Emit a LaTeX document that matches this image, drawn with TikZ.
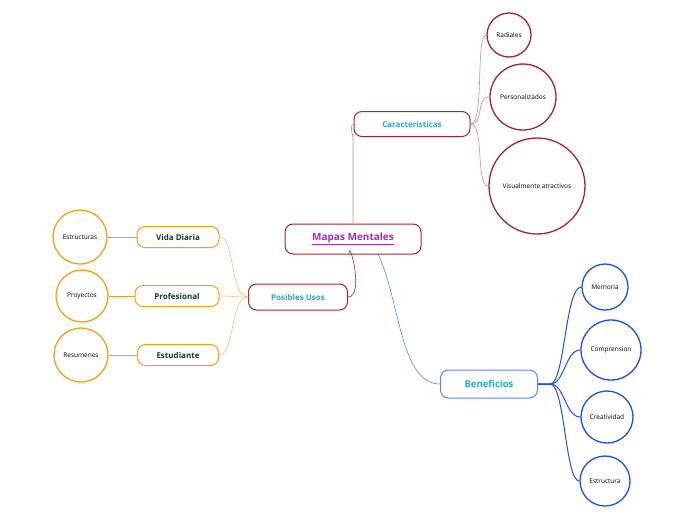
\documentclass[tikz,border=0pt]{standalone}
\usepackage{fontspec}
\setmainfont{Open Sans}
\definecolor{dred}{HTML}{A3262C}
\definecolor{tblue}{HTML}{2AA6E3}
\definecolor{bblue}{HTML}{1A4FF0}
\definecolor{lblue}{HTML}{5A86F5}
\definecolor{org}{HTML}{F5A01A}
\definecolor{lorg}{HTML}{F8C070}
\definecolor{dgreen}{HTML}{0B3D2E}
\definecolor{purp}{HTML}{9B2BE0}
\definecolor{lred}{HTML}{D88A8C}
\begin{document}
\begin{tikzpicture}[x=1pt,y=-1pt,
  box/.style={draw,rounded corners=8pt,line width=1pt,inner sep=0pt},
  circ/.style={draw,circle,line width=1.3pt,inner sep=0pt,font=\fontsize{6.5}{8}\selectfont},
  rbox/.style={box,draw=dred,text=tblue,font=\fontsize{8}{10}\selectfont\bfseries},
  obox/.style={box,draw=org,text=dgreen,font=\fontsize{8}{10}\selectfont\bfseries,minimum height=21pt},
  rc/.style={circ,draw=dred},
  oc/.style={circ,draw=org},
  bc/.style={circ,draw=bblue}]
\useasboundingbox (0,0) rectangle (696,520);
\node[box,draw=dred,minimum width=136pt,minimum height=30pt,text=purp,font=\fontsize{10}{12}\selectfont\bfseries] (c) at (353,239) {\underline{Mapas Mentales}};
\node[rbox,minimum width=116pt,minimum height=25pt] (car) at (412,124) {Caracteristicas};
\node[rbox,minimum width=99pt,minimum height=26pt] (pu) at (298,297) {Posibles Usos};
\node[box,draw=lblue,text=tblue,font=\fontsize{9.5}{11}\selectfont\bfseries,minimum width=97pt,minimum height=28pt] (ben) at (489,384) {Beneficios};
\node[rc,minimum size=44pt] (r1) at (509,35) {Radiales};
\node[rc,minimum size=66pt] (r2) at (523,97) {Personalizados};
\node[rc,minimum size=96pt] (r3) at (537,186) {Visualmente atractivos};
\node[obox,minimum width=82pt] (o1) at (178,237) {Vida Diaria};
\node[obox,minimum width=84pt] (o2) at (177,296) {Profesional};
\node[obox,minimum width=81pt] (o3) at (178,355) {Estudiante};
\node[oc,minimum size=54pt] (e1) at (80,237) {Estructuras};
\node[oc,minimum size=52pt] (e2) at (82,296) {Proyectos};
\node[oc,minimum size=54pt] (e3) at (81,355) {Resumenes};
\node[bc,minimum size=46pt] (b1) at (605,287) {Memoria};
\node[bc,minimum size=60pt] (b2) at (611,350) {Comprension};
\node[bc,minimum size=52pt] (b3) at (607,417) {Creatividad};
\node[bc,minimum size=50pt] (b4) at (605,481) {Estructura};
\coordinate (ct) at (353,224);
\coordinate (cb) at (349,254);
\coordinate (cbr) at (378,254);
\draw[lred,line width=0.6pt] (ct) -- (353,135) to[out=-90,in=180] (car.west);
\draw[dred,line width=0.6pt] (cb) to[out=90,in=0] (pu.east);
\draw[lblue,line width=0.6pt] (cbr) .. controls (400,300) and (400,384) .. (ben.west);
\foreach \t in {r1,r2,r3}
  \draw[lred,line width=0.6pt] (car.east) .. controls (485,124) and (475,0|-\t.west) .. (\t.west);
\foreach \t in {o1,o2,o3}
  \draw[lorg,line width=0.6pt] (pu.west) .. controls (230,297) and (235,0|-\t.east) .. (\t.east);
\draw[org,line width=0.6pt] (o1.west) -- (e1.east);
\draw[org,line width=0.6pt] (o2.west) -- (e2.east);
\draw[org,line width=0.6pt] (o3.west) -- (e3.east);
\foreach \t in {b1,b2,b3,b4}
  \draw[bblue,line width=1pt] (ben.east) -- (550,384) .. controls (565,384) and (565,0|-\t.west) .. (\t.west);
\end{tikzpicture}
\end{document}
